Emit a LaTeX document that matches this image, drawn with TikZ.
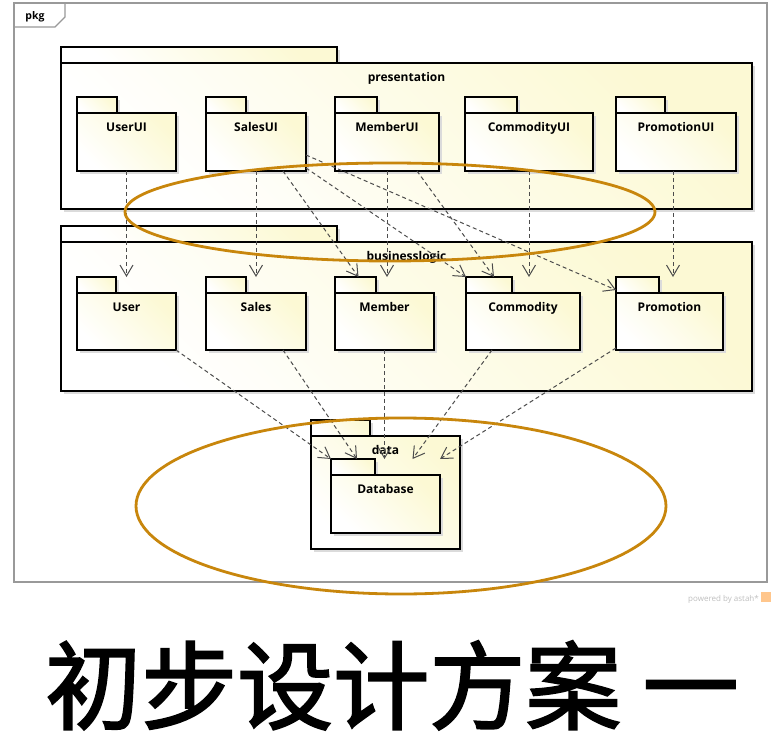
\documentclass[tikz,border=0pt]{standalone}
\usepackage{fontspec}
\setmainfont{Open Sans}
\newfontfamily\cjk[FakeBold=2]{Noto Sans CJK SC}
\usetikzlibrary{arrows.meta,positioning,shadows}

\definecolor{pkgfill}{RGB}{252,249,212}
\definecolor{ringcol}{RGB}{200,134,12}

\begin{document}
\begin{tikzpicture}[
  x=1pt, y=-1pt,
  pkgbox/.style={draw, line width=1.6pt, rectangle, inner sep=0pt, outer sep=0pt,
    top color=pkgfill, bottom color=white, shading angle=-45,
    drop shadow={shadow xshift=3pt, shadow yshift=-3pt, fill=black!14, opacity=1}},
  pkgtab/.style={pkgbox, minimum height=16pt, anchor=south west},
  pkgbody/.style={pkgbox, anchor=north west},
  pkgname/.style={font=\bfseries\fontsize{12}{14}\selectfont, inner sep=0pt, anchor=base},
  dep/.style={-{Straight Barb[length=11pt, width=13pt]}, line width=1pt, black!70,
    dash pattern=on 4pt off 3pt},
  ring/.style={draw=ringcol, line width=2.8pt},
  frame/.style={draw=black!40, line width=1.2pt}
]
\fill[white] (0,0) rectangle (779,746);
\useasboundingbox (0,0) rectangle (779,746);

% outer frame
\draw[frame, fill=white] (14,3) rectangle (767,582);
\draw[frame] (14,27) -- (55,27) -- (65,17) -- (65,3);
\node[font=\bfseries\fontsize{10.5}{12}\selectfont, inner sep=0pt, anchor=base] (pkglbl) at (35,20) {pkg};

% presentation layer
\node[pkgtab, minimum width=276pt] (prestab) at (61,63) {};
\node[pkgbody, minimum width=691pt, minimum height=146pt] (pres) at (prestab.south west) {};
\node[pkgname] (preslbl) at ([yshift=-18.5pt]pres.north) {presentation};

\node[pkgtab, minimum width=40pt] (useruitab) at (77,113) {};
\node[pkgbody, minimum width=99pt, minimum height=58pt] (userui) at (useruitab.south west) {};
\node[pkgname] (useruilbl) at ([yshift=-18.5pt]userui.north) {UserUI};

\node[pkgtab, minimum width=40pt] (salesuitab) at (206,113) {};
\node[pkgbody, minimum width=100pt, minimum height=58pt] (salesui) at (salesuitab.south west) {};
\node[pkgname] (salesuilbl) at ([yshift=-18.5pt]salesui.north) {SalesUI};

\node[pkgtab, minimum width=42pt] (memberuitab) at (335,113) {};
\node[pkgbody, minimum width=104pt, minimum height=58pt] (memberui) at (memberuitab.south west) {};
\node[pkgname] (memberuilbl) at ([yshift=-18.5pt]memberui.north) {MemberUI};

\node[pkgtab, minimum width=52pt] (commodityuitab) at (465,113) {};
\node[pkgbody, minimum width=128pt, minimum height=58pt] (commodityui) at (commodityuitab.south west) {};
\node[pkgname] (commodityuilbl) at ([yshift=-18.5pt]commodityui.north) {CommodityUI};

\node[pkgtab, minimum width=49pt] (promotionuitab) at (616,113) {};
\node[pkgbody, minimum width=120pt, minimum height=58pt] (promotionui) at (promotionuitab.south west) {};
\node[pkgname] (promotionuilbl) at ([yshift=-18.5pt]promotionui.north) {PromotionUI};

% businesslogic layer
\node[pkgtab, minimum width=276pt] (blogictab) at (61,242) {};
\node[pkgbody, minimum width=691pt, minimum height=149pt] (blogic) at (blogictab.south west) {};
\node[pkgname] (blogiclbl) at ([yshift=-18.5pt]blogic.north) {businesslogic};

\node[pkgtab, minimum width=39pt] (usertab) at (77,293) {};
\node[pkgbody, minimum width=99pt, minimum height=57pt] (user) at (usertab.south west) {};
\node[pkgname] (userlbl) at ([yshift=-18.5pt]user.north) {User};

\node[pkgtab, minimum width=40pt] (salestab) at (206,293) {};
\node[pkgbody, minimum width=100pt, minimum height=57pt] (sales) at (salestab.south west) {};
\node[pkgname] (saleslbl) at ([yshift=-18.5pt]sales.north) {Sales};

\node[pkgtab, minimum width=41pt] (membertab) at (335,293) {};
\node[pkgbody, minimum width=99pt, minimum height=57pt] (member) at (membertab.south west) {};
\node[pkgname] (memberlbl) at ([yshift=-18.5pt]member.north) {Member};

\node[pkgtab, minimum width=46pt] (commoditytab) at (466,293) {};
\node[pkgbody, minimum width=114pt, minimum height=57pt] (commodity) at (commoditytab.south west) {};
\node[pkgname] (commoditylbl) at ([yshift=-18.5pt]commodity.north) {Commodity};

\node[pkgtab, minimum width=43pt] (promotiontab) at (616,293) {};
\node[pkgbody, minimum width=107pt, minimum height=57pt] (promotion) at (promotiontab.south west) {};
\node[pkgname] (promotionlbl) at ([yshift=-18.5pt]promotion.north) {Promotion};

% data layer
\node[pkgtab, minimum width=59pt] (datatab) at (311,436) {};
\node[pkgbody, minimum width=149pt, minimum height=113pt] (data) at (datatab.south west) {};
\node[pkgname] (datalbl) at ([yshift=-18.5pt]data.north) {data};

\node[pkgtab, minimum width=44pt] (databasetab) at (331,475) {};
\node[pkgbody, minimum width=109pt, minimum height=58pt] (database) at (databasetab.south west) {};
\node[pkgname] (databaselbl) at ([yshift=-18.5pt]database.north) {Database};

% dependencies
\draw[dep] (userui.south) -- (userui.south |- usertab.north);
\draw[dep] (salesui.south) -- (salesui.south |- salestab.north);
\draw[dep] ([xshift=27pt]salesui.south) -- ([xshift=3pt]membertab.north);
\draw[dep] ([yshift=3pt]salesui.south east) -- (commoditytab.north west);
\draw[dep] ([yshift=16pt]salesui.south east) -- ([yshift=3pt]promotiontab.south west);
\draw[dep] (memberui.south) -- (memberui.south |- membertab.north);
\draw[dep] ([xshift=30pt]memberui.south) -- ([xshift=5pt]commoditytab.north);
\draw[dep] (commodityui.south) -- (commodityui.south |- commoditytab.north);
\draw[dep] ([xshift=-3pt]promotionui.south) -- ([xshift=-3pt]promotionui.south |- promotiontab.north);
\draw[dep] (user.south east) -- (databasetab.north west);
\draw[dep] ([xshift=27pt]sales.south) -- ([xshift=4pt]databasetab.north);
\draw[dep] (member.south) -- (member.south |- databasetab.north);
\draw[dep] ([xshift=26pt]commodity.south west) -- ([xshift=27pt]database.north |- databasetab.north);
\draw[dep] ([yshift=2pt]promotion.south west) -- (database.north east |- databasetab.north);

% highlight rings
\draw[ring] (390,212) ellipse [x radius=265pt, y radius=49pt];
\draw[ring] (401,506) ellipse [x radius=265pt, y radius=88pt];

% watermark and caption
\node[font=\fontsize{8}{9}\selectfont, text=black!25, inner sep=0pt, anchor=base east] (astah) at (759,601) {powered by astah*};
\node[fill=orange!45, minimum size=10pt, inner sep=0pt] (astahicon) at (766,597) {};
\node[font=\cjk\fontsize{96}{110}\selectfont, inner sep=0pt, anchor=base] (caption) at (392,722) {初步设计方案 一};
\end{tikzpicture}
\end{document}
